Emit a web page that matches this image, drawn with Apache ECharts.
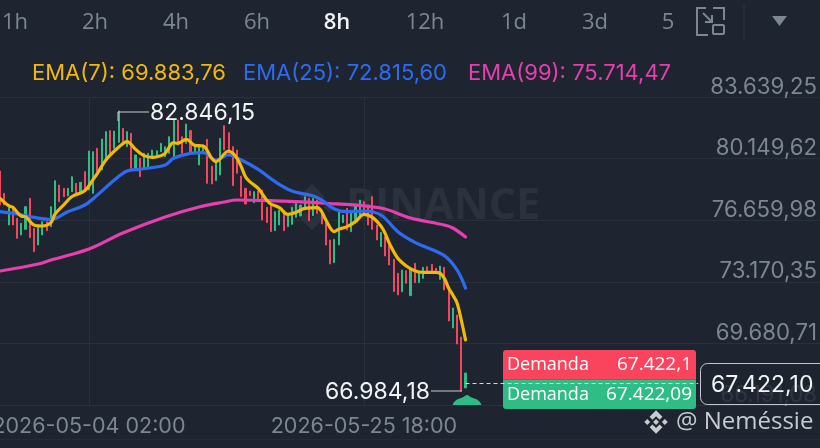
<!DOCTYPE html>
<html><head><meta charset="utf-8">
<style>html,body{margin:0;padding:0;background:#1e2530;overflow:hidden}#c{width:820px;height:448px}</style>
<script src="https://cdn.jsdelivr.net/npm/echarts@6/dist/echarts.min.js"></script>
</head><body><div id="c"></div>
<script>
const opens=[79447,78182,76388,77333,76766,75822,76143,77899,76200,75255,75822,76577,76294,77049,78654,78466,78031,78277,78749,78277,79410,78371,78182,80731,79504,80071,81732,80731,81071,81864,80826,81581,79598,80165,79598,79598,80165,80259,80543,80259,80448,80259,82337,81392,81015,81732,80448,79787,80448,81241,79731,78900,79221,82016,81619,80826,80637,
79164,78465,78314,77654,78314,78371,77389,77521,76067,76388,77049,76294,76426,76823,76898,77238,77899,76917,77805,77238,76672,75539,74255,75255,76521,77332,76011,76672,76955,77710,77521,77993,76388,75161,75727,75255,74443,73650,72612,73801,72385,74217,73122,73367,74028,74160,73934,73310,73990,72875,70553,71289,70043,67154];
const closes=[77521,77521,77521,76388,75633,76483,77427,75671,74878,76388,76577,76067,77427,78900,77710,77993,78466,79126,78145,78805,78371,80580,80543,79410,81260,81676,80448,81713,82846.15,80920,81676,79598,80354,79126,80448,80448,80637,80599,81015,80826,81392,82337,80920,80448,82110,80448,80920,80920,80920,78749,78711,80071,81298,80637,80448,78617,79315,
77993,77578,78050,78277,77710,76672,76521,76011,77144,77238,76067,76955,77389,77616,77521,77993,76634,77899,77049,76445,75255,74179,75576,77144,76955,76105,77049,77521,77805,76955,76388,76143,75539,75973,74632,74122,72612,72423,73839,73084,73877,73122,73745,73990,73650,73650,73650,74066,72706,70949,71686,69646,66984.18,68004];
const ema7Points=[[0,77899],[2,77484],[3,77389],[5,76898],[6,76861],[8,76388],[10,76332],[12,76521],[13,77011],[15,77521],[17,78000],[20,78333],[22,78975],[23,79315],[25,80071],[28,80788],[30,81109],[32,80675],[34,80316],[36,80222],[38,80316],[39,80448],[41,81053],[42,81015],[44,81241],[46,80901],[48,80864],[50,80165],[51,79976],[54,80580],[55,80448],[56,80165],[57,79693],[58,79126],[59,78843],[61,78465],[63,77805],[64,77578],[66,77370],[68,76993],[70,77106],[72,77332],[75,77370],[76,77144],[77,76672],[79,76011],[80,76143],[82,76294],[84,76577],[86,76993],[88,76823],[90,76332],[91,75916],[92,75350],[94,74500],[96,74066],[98,73801],[100,73707],[103,73707],[104,73650],[105,73367],[106,72819],[107,72422],[108,71969],[109,71006],[110,69883.76]];
const ema25Points=[[0,77144],[4,77011],[8,76823],[12,76709],[16,77144],[20,77521],[23,78088],[27,78938],[30,79447],[33,79542],[39,79787],[41,80165],[45,80448],[48,80486],[51,80071],[54,80354],[57,80071],[61,79542],[65,78843],[69,78314],[74,78031],[76,77805],[79,77295],[82,77144],[86,77181],[90,76955],[94,76011],[98,75406],[100,75199],[105,74651],[108,73839],[110,72815.6]];
const ema99Points=[[0,73782],[9,74178],[12,74405],[21,75028],[29,75935],[39,76841],[47,77407],[53,77691],[56,77804],[64,77764],[76,77634],[90,77351],[97,76784],[105,76388],[107,76218],[110,75714.47]];
const priceTicks=[83639.25,80149.62,76659.98,73170.35,69680.71,66191.08];
const timeTickIndex=[21,86];
const intervalLabels=['1h','2h','4h','6h','8h','12h','1d','3d','5'];
const legendLabels=['EMA(7): 69.883,76','EMA(25): 72.815,60','EMA(99): 75.714,47'];
const highLabel='82.846,15', lowLabel='66.984,18', lastLabel='67.422,10';
const askLabel='67.422,1', bidLabel='67.422,09', lastPrice=67422.10;

const FONT='"Open Sans",sans-serif', NUM='Inter,sans-serif';
const GRAY='#7d8794', GREEN='#2ebd85', RED='#f6465d', GRID='#2a313c';
const SLOTS=195;
const cats=[];const t0=Date.UTC(2026,4,4,2)-21*8*3600e3;
for(let i=0;i<SLOTS;i++){const d=new Date(t0+i*8*3600e3);const p=n=>String(n).padStart(2,'0');
  cats.push(d.getUTCFullYear()+'-'+p(d.getUTCMonth()+1)+'-'+p(d.getUTCDate())+' '+p(d.getUTCHours())+':00');}
const candles=opens.map((o,i)=>[o,closes[i],Math.min(o,closes[i]),Math.max(o,closes[i])]);
const brFmt=v=>v.toLocaleString('pt-BR',{minimumFractionDigits:2,maximumFractionDigits:2});
const isTimeTick=i=>timeTickIndex.includes(i);

const centers=[15,95,176,257,337,425,514,595,668];
const g=[];
const txt=(x,y,t,fill,size,align,weight,fam,z)=>g.push({type:'text',z:z||100,x,y,style:{text:t,fill,font:(weight||'normal')+' '+size+'px '+(fam||NUM),textAlign:align||'left',textVerticalAlign:'middle'}});
const LOGO=[[[12,2],[17.5,7.5],[15,10],[12,7],[9,10],[6.5,7.5]],[[12,9.5],[14.5,12],[12,14.5],[9.5,12]],[[4.5,9.5],[7,12],[4.5,14.5],[2,12]],[[19.5,9.5],[22,12],[19.5,14.5],[17,12]],[[12,22],[17.5,16.5],[15,14],[12,17],[9,14],[6.5,16.5]]];
const logo=(x,y,s,fill,z)=>LOGO.forEach(pts=>g.push({type:'polygon',z,shape:{points:pts.map(p=>[x+p[0]*s,y+p[1]*s])},style:{fill}}));
intervalLabels.forEach((t,i)=>txt(centers[i],23,t,t==='8h'?'#f1f3f5':GRAY,22,'center',t==='8h'?'600':'normal',FONT));
// toolbar icon
const ic={stroke:GRAY,lineWidth:2,fill:null};
g.push({type:'polyline',z:100,shape:{points:[[706,8],[697,8],[697,35],[708,35]]},style:ic});
g.push({type:'polyline',z:100,shape:{points:[[713,8],[724,8],[724,20]]},style:ic});
g.push({type:'polyline',z:100,shape:{points:[[703,13],[712,22]]},style:ic});
g.push({type:'polyline',z:100,shape:{points:[[712,15],[712,22],[705,22]]},style:ic});
g.push({type:'rect',z:100,shape:{x:713,y:25,width:11,height:9,r:1},style:ic});
g.push({type:'line',z:100,shape:{x1:744,y1:3,x2:744,y2:40},style:{stroke:'#2f3743',lineWidth:1}});
g.push({type:'polygon',z:100,shape:{points:[[772,16],[787,16],[779.5,26]]},style:{fill:GRAY}});
g.push({type:'line',z:0,shape:{x1:0,y1:439.5,x2:820,y2:439.5},style:{stroke:'#252c37',lineWidth:1}});
// legend
txt(32,73,legendLabels[0],'#f0b90b',22);
txt(243,73,legendLabels[1],'#2f6bf2',22);
txt(468,73,legendLabels[2],'#e83fb0',22);
// watermark
logo(284,179,2.33,'#2b323d',0);
g.push({type:'text',z:0,x:346,y:207,style:{text:'BINANCE',fill:'#2b323d',font:'bold 43px '+FONT,textVerticalAlign:'middle',textAlign:'left'}});
// extremes
g.push({type:'polyline',z:100,shape:{points:[[118,121],[118,112],[149,112]]},style:{stroke:'#c8ccd2',lineWidth:1,fill:null}});
txt(150,113,highLabel,'#f1f3f5',23);
g.push({type:'line',z:100,shape:{x1:431,y1:391,x2:462,y2:391},style:{stroke:'#c8ccd2',lineWidth:1}});
txt(325,392,lowLabel,'#f1f3f5',23);
// tags
g.push({type:'rect',z:1,shape:{x:503,y:350,width:193,height:29.5,r:[3,3,0,0]},style:{fill:'#f9445e'}});
g.push({type:'rect',z:1,shape:{x:503,y:379.5,width:193,height:29.5,r:[0,0,3,3]},style:{fill:'#2fbd85'}});
txt(507,365,'Demanda','#fff',18,'left','normal',FONT);txt(692,365,askLabel,'#fff',19,'right','normal',FONT);
txt(507,395,'Demanda','#fff',18,'left','normal',FONT);txt(692,395,bidLabel,'#fff',19,'right','normal',FONT);
g.push({type:'rect',z:92,shape:{x:700.5,y:363.5,width:130,height:41,r:7},style:{fill:'rgba(30,37,48,0.82)',stroke:'#c4c8ce',lineWidth:1}});
txt(711,385,lastLabel,'#f1f3f5',23);
// bump marker
g.push({type:'polygon',z:95,shape:{points:[[452.5,405],[454,402],[457,399.5],[461,398],[463.5,397],[465.5,395.5],[467,395],[468.5,395.5],[470.5,397],[473,398],[477,399.5],[480,402],[481.5,405]]},style:{fill:GREEN}});
// signature
logo(642,408,1.17,'#c8ccd2',100);
txt(676,422,'@ Neméssie','#c8ccd2',24,'left','normal',FONT);

const chart=echarts.init(document.getElementById('c'),null,{renderer:'canvas'});
const line=(name,data,color)=>({type:'line',name,data,showSymbol:false,symbol:'none',smooth:0.35,z:5,silent:true,lineStyle:{color,width:3.2,cap:'round',join:'round'}});
chart.setOption({
  animation:false,backgroundColor:'#1e2530',
  grid:{left:-2,right:-3,top:97,bottom:43,containLabel:false,outerBoundsMode:'none'},
  xAxis:{type:'category',data:cats,boundaryGap:true,
    axisLine:{show:false},axisTick:{show:false,alignWithLabel:true},
    axisLabel:{color:GRAY,fontSize:21.5,fontFamily:NUM,margin:11,customValues:timeTickIndex},
    splitLine:{show:true,alignWithLabel:true,interval:(i)=>isTimeTick(i),lineStyle:{color:GRID,width:1}}},
  yAxis:{type:'value',position:'right',min:priceTicks[5],max:priceTicks[0],
    axisLine:{show:false},
    axisTick:{show:false,customValues:priceTicks},
    axisLabel:{inside:true,customValues:priceTicks,color:GRAY,fontSize:22.2,fontFamily:NUM,margin:6,verticalAlign:'bottom',lineHeight:20,formatter:brFmt,showMinLabel:true,showMaxLabel:true},
    splitLine:{show:true,lineStyle:{color:GRID,width:1}}},
  series:[
    {type:'candlestick',name:'BTC',data:candles,barWidth:1.6,z:3,silent:true,
     itemStyle:{color:GREEN,color0:RED,borderColor:GREEN,borderColor0:RED,borderWidth:1},
     markLine:{silent:true,symbol:'none',label:{show:false},
       lineStyle:{color:'#d5d8dc',type:[4,3],width:1},
       data:[[{xAxis:110,yAxis:lastPrice},{xAxis:165,yAxis:lastPrice}]]}},
    line('EMA(99)',ema99Points,'#e83fb0'),
    line('EMA(25)',ema25Points,'#2f6bf2'),
    line('EMA(7)',ema7Points,'#f0b90b')
  ],
  graphic:{elements:g}
});
</script></body></html>
